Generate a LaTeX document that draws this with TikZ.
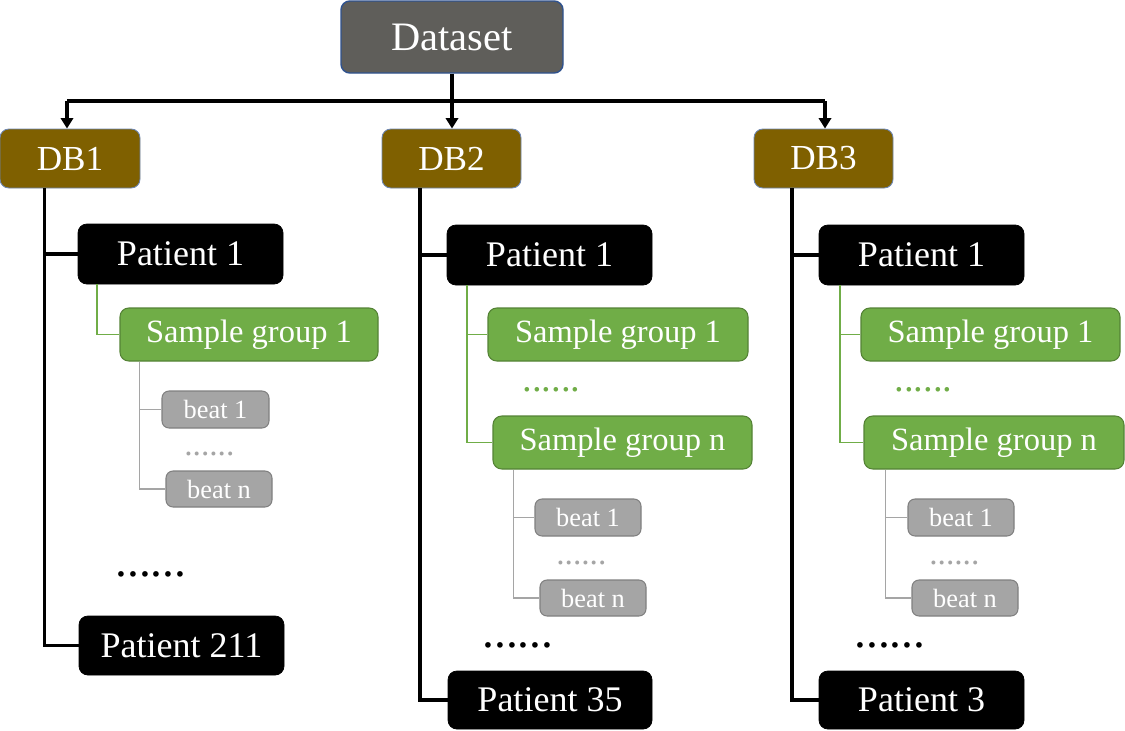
\documentclass[tikz,border=0pt]{standalone}
\usepackage{fontspec}
\setmainfont{Liberation Serif}
\usetikzlibrary{arrows.meta,calc}
\definecolor{dsgray}{HTML}{5F5E5A}
\definecolor{dsblue}{HTML}{2F528F}
\definecolor{dbbrown}{HTML}{7F6000}
\definecolor{sggreen}{HTML}{70AD47}
\definecolor{sgborder}{HTML}{548235}
\definecolor{btgray}{HTML}{A5A5A5}
\definecolor{btborder}{HTML}{808080}
\tikzset{
  wh/.style 2 args={minimum width=#1*0.02cm, minimum height=#2*0.02cm},
  box/.style={rounded corners=5pt, inner sep=0pt, text=white, align=center},
  dsbox/.style={box, fill=dsgray, draw=dsblue, line width=0.8pt, font=\fontsize{23}{27}\selectfont},
  dbbox/.style={box, fill=dbbrown, draw=dsblue!70, line width=0.5pt, font=\fontsize{20}{24}\selectfont},
  ptbox/.style={box, fill=black, draw=black, font=\fontsize{20.5}{24}\selectfont},
  sgbox/.style={box, fill=sggreen, draw=sgborder, line width=0.6pt, font=\fontsize{18.5}{22}\selectfont},
  btbox/.style={box, rounded corners=4pt, fill=btgray, draw=btborder, line width=0.6pt, font=\fontsize{15}{18}\selectfont},
  trunk/.style={line width=2.2pt, black},
  arr/.style={trunk, -{Triangle[width=7pt,length=6pt]}},
  gline/.style={line width=1.1pt, sggreen},
  bline/.style={line width=0.8pt, btgray},
  dotsb/.style={anchor=base west, inner sep=0pt, font=\fontsize{27}{30}\selectfont, text=black},
  dotsg/.style={anchor=base west, inner sep=0pt, font=\fontsize{22}{26}\selectfont, text=sggreen},
  dotsy/.style={anchor=base west, inner sep=0pt, font=\fontsize{19}{22}\selectfont, text=btgray},
}
\begin{document}
\begin{tikzpicture}[x=0.02cm, y=-0.02cm]
\useasboundingbox (0,0) rectangle (1125,730);

% top
\node[dsbox, wh={222}{72}] (dataset) at (452,37) {Dataset};
\node[dbbox, wh={140}{59}] (db1) at (70,158.5) {DB1};
\node[dbbox, wh={139}{59}] (db2) at (451.5,158.5) {DB2};
\node[dbbox, wh={139}{59}] (db3) at (823.5,158.5) {DB3};
\coordinate (bus) at (452,101);

% DB1 column
\node[ptbox, wh={205}{60}] (p11) at (180.5,254) {Patient 1};
\node[sgbox, wh={258}{53}] (sg11) at (249,334.5) {Sample group 1};
\node[btbox, wh={107}{37}] (b11) at (215.5,409.5) {beat 1};
\node[btbox, wh={106}{36}] (b1n) at (219,489) {beat n};
\node[ptbox, wh={205}{59}] (p1e) at (181.5,645.5) {Patient 211};
\node[dotsy] (d1y) at (184,455) {......};
\node[dotsb] (d1b) at (115,576) {......};

% DB2 column
\node[ptbox, wh={205}{60}] (p21) at (549.5,255) {Patient 1};
\node[sgbox, wh={260}{53}] (sg21) at (618,334.5) {Sample group 1};
\node[sgbox, wh={259}{53}] (sg2n) at (622.5,442.5) {Sample group n};
\node[btbox, wh={106}{37}] (b21) at (588,517.5) {beat 1};
\node[btbox, wh={106}{36}] (b2n) at (593,598) {beat n};
\node[ptbox, wh={204}{58}] (p2e) at (550,700) {Patient 35};
\node[dotsg] (d2g) at (522,391) {......};
\node[dotsy] (d2y) at (556,564) {......};
\node[dotsb] (d2b) at (482,647) {......};

% DB3 column
\node[ptbox, wh={205}{60}] (p31) at (921.5,255) {Patient 1};
\node[sgbox, wh={259}{53}] (sg31) at (990.5,334.5) {Sample group 1};
\node[sgbox, wh={260}{53}] (sg3n) at (994,442.5) {Sample group n};
\node[btbox, wh={106}{37}] (b31) at (961,517.5) {beat 1};
\node[btbox, wh={106}{36}] (b3n) at (965,598) {beat n};
\node[ptbox, wh={205}{58}] (p3e) at (921.5,700) {Patient 3};
\node[dotsg] (d3g) at (894,391) {......};
\node[dotsy] (d3y) at (929,564) {......};
\node[dotsb] (d3b) at (854,647) {......};

% top connectors
\draw[trunk] ($(db1.north |- bus)+(-3,0)$) -- ($(db3.north |- bus)+(1.5,0)$);
\draw[arr] (dataset.south) -- (dataset.south |- db2.north);
\draw[arr] ($(db1.north |- bus)+(-3,0)$) -- ($(db1.north)+(-3,0)$);
\draw[arr] ($(db3.north |- bus)+(1.5,0)$) -- ($(db3.north)+(1.5,0)$);

% black trunks
\draw[trunk] ($(db1.south west)+(45,0)$) coordinate (t1) |- (p1e.west);
\draw[trunk] (t1 |- p11.west) -- (p11.west);
\draw[trunk] ($(db2.south west)+(38,0)$) coordinate (t2) |- (p2e.west);
\draw[trunk] (t2 |- p21.west) -- (p21.west);
\draw[trunk] ($(db3.south west)+(38,0)$) coordinate (t3) |- (p3e.west);
\draw[trunk] (t3 |- p31.west) -- (p31.west);

% green connectors
\draw[gline] ($(p11.south west)+(19,0)$) |- (sg11.west);
\draw[gline] ($(p21.south west)+(20,0)$) coordinate (g2) |- (sg2n.west);
\draw[gline] (g2 |- sg21.west) -- (sg21.west);
\draw[gline] ($(p31.south west)+(21,0)$) coordinate (g3) |- (sg3n.west);
\draw[gline] (g3 |- sg31.west) -- (sg31.west);

% gray connectors
\draw[bline] ($(sg11.south west)+(20,0)$) coordinate (y1) |- (b1n.west);
\draw[bline] (y1 |- b11.west) -- (b11.west);
\draw[bline] ($(sg2n.south west)+(21,0)$) coordinate (y2) |- (b2n.west);
\draw[bline] (y2 |- b21.west) -- (b21.west);
\draw[bline] ($(sg3n.south west)+(22,0)$) coordinate (y3) |- (b3n.west);
\draw[bline] (y3 |- b31.west) -- (b31.west);
\end{tikzpicture}
\end{document}
